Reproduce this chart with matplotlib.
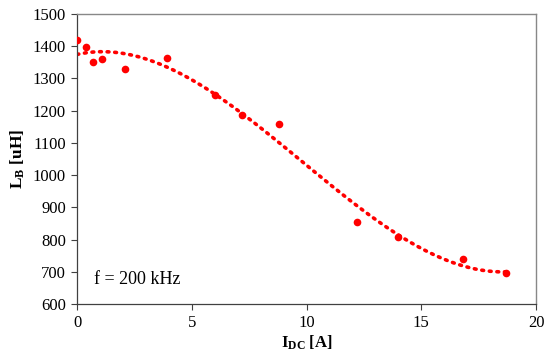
import numpy as np
import matplotlib.pyplot as plt

plt.rcParams['font.family'] = ['Liberation Serif', 'DejaVu Serif']
plt.rcParams['mathtext.fontset'] = 'custom'
plt.rcParams['mathtext.rm'] = 'Liberation Serif'
plt.rcParams['mathtext.bf'] = 'Liberation Serif:bold'

i_dc = [0.0, 0.4, 0.7, 1.1, 2.1, 3.9, 6.0, 7.2, 8.8, 12.2, 14.0, 16.8, 18.7]
l_b = [1420, 1398, 1350, 1360, 1330, 1362, 1250, 1185, 1160, 855, 808, 740, 695]

x_ticks = [0, 5, 10, 15, 20]
y_ticks = [600, 700, 800, 900, 1000, 1100, 1200, 1300, 1400, 1500]

fig = plt.figure(figsize=(5.5, 3.62), dpi=100)
ax = fig.add_axes([77 / 550, 1 - 304 / 362, (536 - 77) / 550, (304 - 14) / 362])

ax.plot(i_dc, l_b, 'o', color='red', markersize=5.5, markeredgewidth=0, zorder=3)

# linea de tendencia polinomica (grado 3), como en Excel
coef = np.polyfit(i_dc, l_b, 3)
xs = np.linspace(min(i_dc), max(i_dc), 300)
ax.plot(xs, np.polyval(coef, xs), color='red', lw=2.6, linestyle=(0, (0.5, 1.6)),
        dash_capstyle='round', zorder=2)

ax.set_xlim(0, 20)
ax.set_ylim(600, 1500)
ax.set_xticks(x_ticks)
ax.set_yticks(y_ticks)
ax.tick_params(direction='out', length=4, width=0.8, color='#404040',
               labelsize=12, pad=4)

for s in ['left', 'bottom']:
    ax.spines[s].set_color('#404040')
    ax.spines[s].set_linewidth(0.9)
for s in ['top', 'right']:
    ax.spines[s].set_color('#888888')
    ax.spines[s].set_linewidth(1.0)

ax.set_xlabel(r'$\mathbf{I_{DC}}$ [A]', fontsize=12, fontweight='bold', labelpad=2)
ax.set_ylabel(r'$\mathbf{L_B}$ [uH]', fontsize=12.5, fontweight='bold', labelpad=4)

ax.text(0.75, 662, 'f = 200 kHz', fontsize=13)

fig.savefig('out.png', dpi=100)
